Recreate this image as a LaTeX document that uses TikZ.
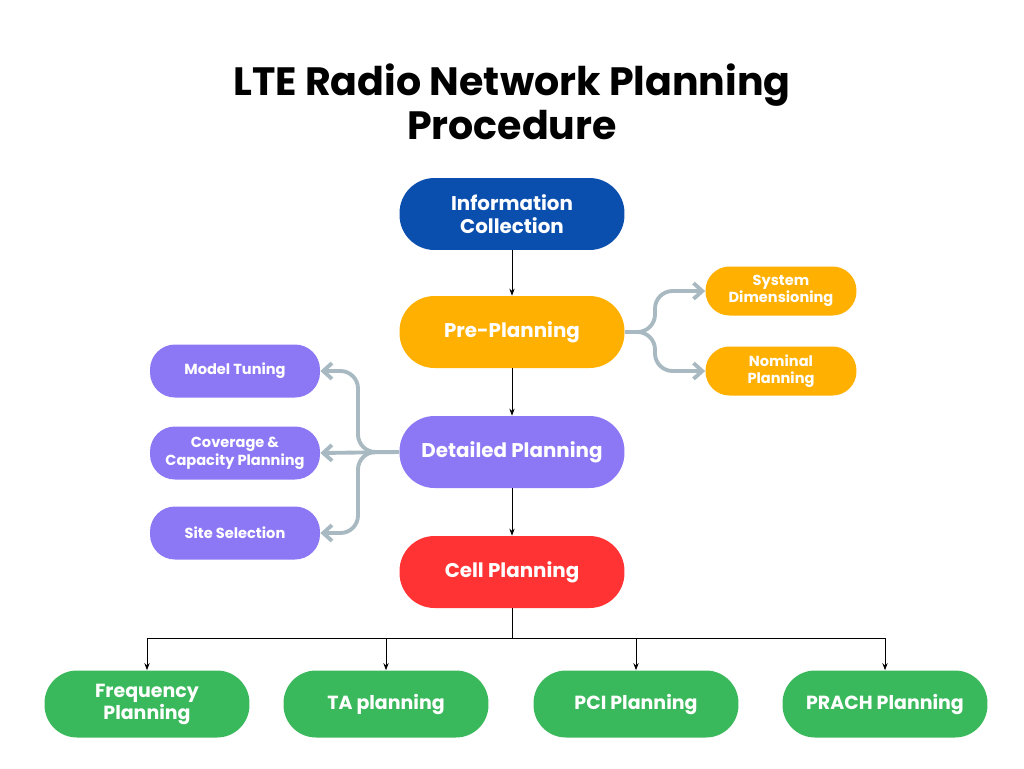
\documentclass[tikz,border=0pt]{standalone}
\usepackage{fontspec}
\setmainfont{Poppins}
\usetikzlibrary{shapes,arrows,arrows.meta,positioning,calc}

\begin{document}
\begin{tikzpicture}[
    x=0.02cm, y=-0.02cm,
    main/.style={rectangle, rounded corners=0.7cm, minimum width=4.5cm, minimum height=1.44cm, align=center, text=white, font=\fontsize{11.3pt}{13pt}\selectfont\bfseries},
    side/.style={rectangle, rounded corners=0.5cm, minimum width=3.4cm, minimum height=1.06cm, align=center, text=white, font=\fontsize{8.3pt}{10pt}\selectfont\bfseries},
    small/.style={rectangle, rounded corners=0.48cm, minimum width=3.02cm, minimum height=0.98cm, align=center, text=white, font=\fontsize{8.3pt}{10pt}\selectfont\bfseries},
    leaf/.style={rectangle, rounded corners=0.65cm, minimum width=4.1cm, minimum height=1.34cm, align=center, text=white, fill=leafgreen, font=\fontsize{10.8pt}{12.5pt}\selectfont\bfseries},
    arrow/.style={-{Stealth[length=4pt,width=3pt]}, black, line width=0.5pt},
    garrow/.style={-{Straight Barb[length=5pt,width=9pt]}, draw=linegray, line width=2.2pt, rounded corners=10pt}
]
\definecolor{infoblue}{HTML}{0A4FAE}
\definecolor{preorange}{HTML}{FFB000}
\definecolor{detpurple}{HTML}{8C78F5}
\definecolor{cellred}{HTML}{FF3333}
\definecolor{leafgreen}{HTML}{3AB85C}
\definecolor{linegray}{HTML}{A9B9C1}

\useasboundingbox (0,0) rectangle (1024,768);

% Title
\node[align=center, font=\fontsize{22.5pt}{25pt}\selectfont\bfseries] (title) at (512,102) {LTE Radio Network Planning\\Procedure};

% Main chain
\node[main, fill=infoblue] (info) at (512,214) {Information\\Collection};
\node[main, fill=preorange] (pre) at (512,332) {Pre-Planning};
\node[main, fill=detpurple] (det) at (512,452) {Detailed Planning};
\node[main, fill=cellred] (cell) at (512,572) {Cell Planning};

% Pre-planning branches
\node[small, fill=preorange] (sysdim) at (781,291) {System\\Dimensioning};
\node[small, fill=preorange] (nominal) at (781,371) {Nominal\\Planning};

% Detailed planning branches
\node[side, fill=detpurple] (tuning) at (235,371) {Model Tuning};
\node[side, fill=detpurple] (covcap) at (235,453) {Coverage \&\\Capacity Planning};
\node[side, fill=detpurple] (site) at (235,533) {Site Selection};

% Cell planning leaves
\node[leaf] (freq) at (147,704) {Frequency\\Planning};
\node[leaf] (ta) at (386,704) {TA planning};
\node[leaf] (pci) at (636,704) {PCI Planning};
\node[leaf] (prach) at (885,704) {PRACH Planning};

% Arrows
\draw[arrow] (info) -- (pre);
\draw[arrow] (pre) -- (det);
\draw[arrow] (det) -- (cell);

\coordinate (prefork) at (655,332);
\draw[garrow] (pre.east) -- (prefork) |- (sysdim.west);
\draw[garrow] (pre.east) -- (prefork) |- (nominal.west);

\coordinate (detfork) at (358,452);
\draw[garrow] (det.west) -- (detfork) |- (tuning.east);
\draw[garrow] (det.west) -- (covcap.east);
\draw[garrow] (det.west) -- (detfork) |- (site.east);

\coordinate (bus) at (512,638);
\draw[black, line width=0.5pt] (cell.south) -- (bus);
\draw[black, line width=0.5pt] (freq.north |- bus) -- (prach.north |- bus);
\foreach \n in {freq,ta,pci,prach}
    \draw[arrow] (\n.north |- bus) -- (\n.north);
\end{tikzpicture}
\end{document}
